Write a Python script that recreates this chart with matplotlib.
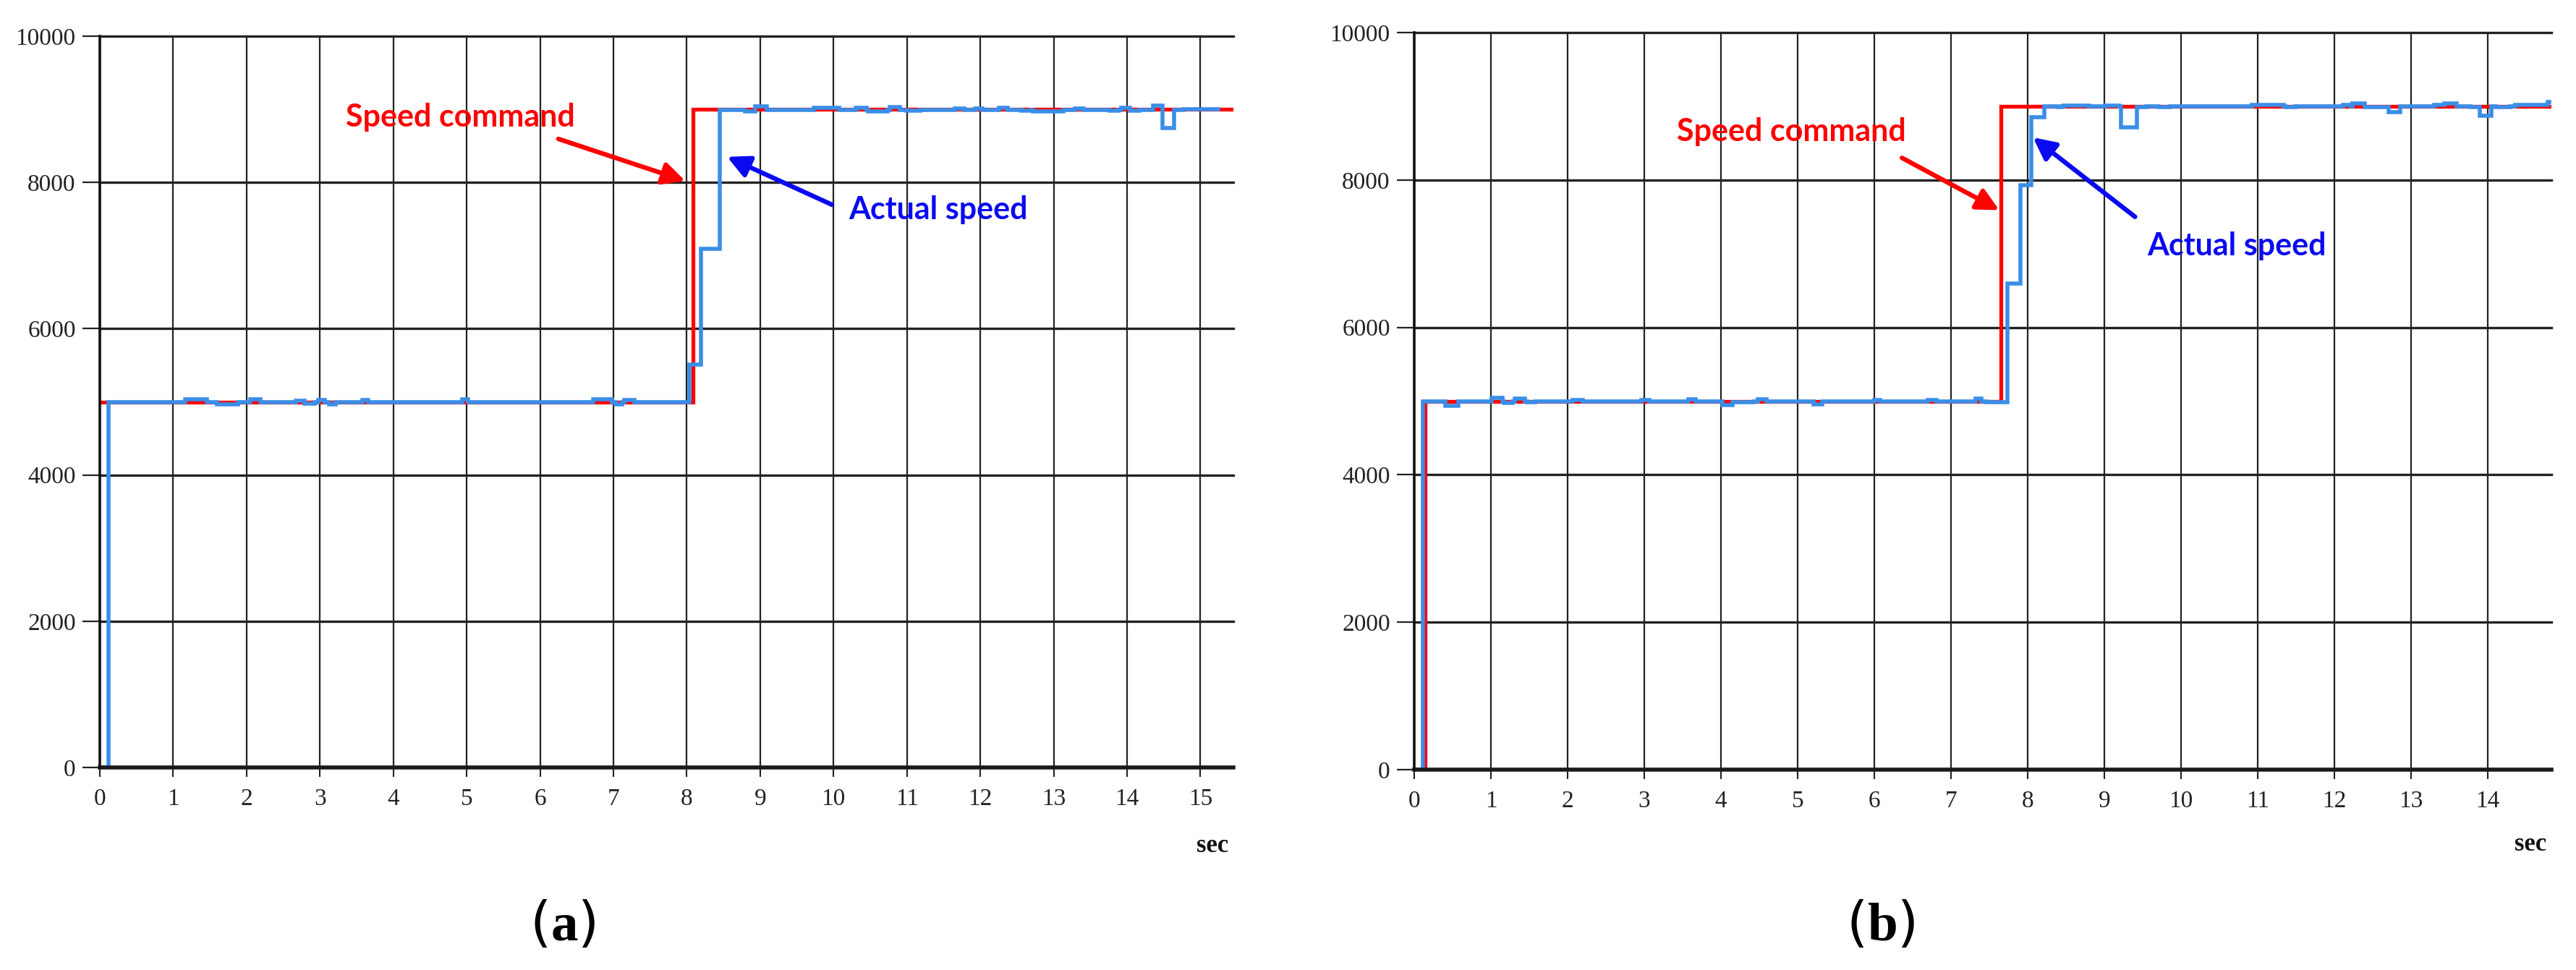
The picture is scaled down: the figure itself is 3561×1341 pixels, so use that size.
import numpy as np
import matplotlib
matplotlib.use('Agg')
import matplotlib.pyplot as plt

# ---- data (step signals: segment start time, value) ----
# panel (a)
a_cmd_t = [0.0, 8.08]
a_cmd_v = [5000, 9000]
a_cmd_end = 15.45

a_act_t = [0.00, 0.12, 1.16, 1.46, 1.60, 1.88, 2.05, 2.19, 2.67, 2.79, 2.93, 2.98,
           3.07, 3.13, 3.21, 3.58, 3.66, 4.94, 5.02, 6.72, 6.98, 7.03, 7.12, 7.15,
           7.29, 8.04, 8.19, 8.45, 8.79, 8.93, 9.09, 9.73, 10.08, 10.30, 10.45, 10.47,
           10.74, 10.77, 10.90, 10.99, 11.18, 11.65, 11.78, 11.93, 12.03, 12.26, 12.37,
           12.56, 12.69, 12.72, 13.13, 13.29, 13.41, 13.76, 13.88, 13.92, 14.04, 14.17,
           14.36, 14.48, 14.64, 14.77]
a_act_v = [0, 4995, 5030, 4995, 4970, 4995, 5030, 4995, 5010, 4980, 4995, 5020,
           4995, 4970, 4995, 5020, 4995, 5030, 4995, 5030, 4995, 4970, 4995, 5020,
           4995, 5505, 7090, 8995, 8975, 9040, 8995, 9020, 8995, 9020, 8995, 8975,
           8995, 9030, 8995, 8985, 8995, 9015, 8995, 9015, 8995, 9025, 8995,
           8985, 8995, 8975, 8995, 9015, 8995, 8985, 8995, 9020, 8985, 8995,
           9050, 8740, 8995, 9005]
a_act_end = 15.24

# panel (b)
b_cmd_t = [0.0, 0.146, 7.65]
b_cmd_v = [0, 5000, 9000]
b_cmd_end = 14.82

b_act_t = [0.00, 0.11, 0.41, 0.58, 1.01, 1.15, 1.17, 1.28, 1.31, 1.44, 1.47, 1.58,
           2.07, 2.20, 2.96, 3.07, 3.58, 3.67, 4.02, 4.15, 4.42, 4.48, 4.59, 5.21,
           5.32, 6.00, 6.08, 6.70, 6.81, 7.32, 7.40, 7.46, 7.74, 7.91, 8.05, 8.22,
           8.39, 8.44, 8.47, 8.80, 9.01, 9.19, 9.22, 9.42, 9.55, 9.71, 9.86, 10.92,
           11.34, 11.36, 11.49, 12.11, 12.22, 12.24, 12.40, 12.71, 12.86, 13.30, 13.43,
           13.59, 13.77, 13.90, 14.05, 14.10, 14.29, 14.36, 14.78]
b_act_v = [0, 5000, 4935, 4995, 5040, 4995, 4980, 4995, 5030, 4995, 4985, 4995,
           5015, 4995, 5010, 4995, 5020, 4995, 4950, 4985, 4995, 5020, 4995, 4955,
           4995, 5015, 4995, 5010, 4995, 5030, 4995, 4985, 6590, 7930, 8850, 9000,
           8985, 8995, 9010, 8995, 9010, 8995, 8710, 8990, 8995, 8990, 8995, 9020,
           8995, 8985, 8995, 9020, 8995, 9040, 8985, 8920, 8995, 9020, 9035,
           8995, 8985, 8870, 8995, 8990, 8995, 9020, 9060]
b_act_end = 14.80

y_ticks = [0, 2000, 4000, 6000, 8000, 10000]
a_x_ticks = list(range(0, 16))
b_x_ticks = list(range(0, 15))

plt.rcParams['mathtext.fontset'] = 'custom'
plt.rcParams['mathtext.rm'] = 'Liberation Serif'
plt.rcParams['mathtext.bf'] = 'Liberation Serif:bold'

RED = '#ff0000'
BLUE_LINE = '#3a8ee8'
BLUE_TXT = '#0a0af0'
GRID = '#222222'


def step_xy(t, v, end):
    x = list(t) + [end]
    y = list(v) + [v[-1]]
    return x, y


def draw_panel(ax, cmd, act, xticks, xmax, notes):
    ax.set_xlim(0, xmax)
    ax.set_ylim(0, 10000)
    for s in ['top', 'right', 'bottom']:
        ax.spines[s].set_visible(False)
    ax.spines['left'].set_linewidth(2.6)
    ax.spines['left'].set_color('#111111')
    ax.spines['left'].set_zorder(5)

    for xv in xticks:
        ax.axvline(xv, color=GRID, lw=1.6, zorder=1, clip_on=False)
    for yv in y_ticks[1:]:
        ax.axhline(yv, color=GRID, lw=2.4, zorder=1, clip_on=False)
    ax.axhline(0, color='#1a1a1a', lw=4.0, zorder=4, clip_on=False)

    cx, cy = step_xy(*cmd)
    ax.step(cx, cy, where='post', color=RED, lw=3.8, zorder=2, solid_joinstyle='miter')
    bx, by = step_xy(*act)
    ax.step(bx, by, where='post', color=BLUE_LINE, lw=4.0, zorder=3, solid_joinstyle='miter')

    ax.set_xticks(xticks)
    ax.set_yticks(y_ticks)
    ax.set_xticklabels([str(v) for v in xticks], family='Liberation Serif', fontsize=24, color='#222222')
    ax.set_yticklabels([str(v) for v in y_ticks], family='Liberation Serif', fontsize=24, color='#222222')
    ax.tick_params(axis='x', length=9.5, width=1.5, pad=11, color=GRID)
    ax.tick_params(axis='y', length=17, width=1.6, pad=7, color=GRID)

    for text, color, txy, tail, head in notes:
        ax.text(txy[0], txy[1], text, color=color, fontsize=31, fontweight='bold',
                family='Lato', ha='center', va='center', zorder=6)
        ax.annotate('', xy=head, xytext=tail, zorder=6,
                    arrowprops=dict(arrowstyle='-|>', color=color, lw=4.6,
                                    mutation_scale=46, shrinkA=0, shrinkB=0))


fig = plt.figure(figsize=(35.61, 13.41), dpi=100)
ax_a = fig.add_axes([138 / 3561, 1 - 1061 / 1341, (1705 - 138) / 3561, (1061 - 50) / 1341])
ax_b = fig.add_axes([1955 / 3561, 1 - 1064 / 1341, (3527 - 1955) / 3561, (1064 - 45) / 1341])

draw_panel(ax_a, (a_cmd_t, a_cmd_v, a_cmd_end), (a_act_t, a_act_v, a_act_end),
           a_x_ticks, 15.45,
           [('Speed command', RED, (4.91, 8890), (6.25, 8595), (7.98, 8020)),
            ('Actual speed', BLUE_TXT, (11.43, 7630), (9.98, 7695), (8.55, 8350))])
draw_panel(ax_b, (b_cmd_t, b_cmd_v, b_cmd_end), (b_act_t, b_act_v, b_act_end),
           b_x_ticks, 14.83,
           [('Speed command', RED, (4.92, 8656), (6.36, 8300), (7.63, 7590)),
            ('Actual speed', BLUE_TXT, (10.73, 7105), (9.40, 7500), (8.07, 8577))])

for x, y in [(1676, 1170), (3498, 1168)]:
    fig.text(x / 3561, 1 - y / 1341, 'sec', family='Liberation Serif', fontweight='bold',
             fontsize=25, ha='center', va='center', color='#111111')

for x, lab in [(778, 'a'), (2600, 'b')]:
    fig.text(x / 3561, 1 - 1279 / 1341, '($\\mathbf{%s}$)' % lab, fontsize=54,
             ha='center', va='center', color='black')

fig.savefig('out.png', dpi=100, facecolor='white')
